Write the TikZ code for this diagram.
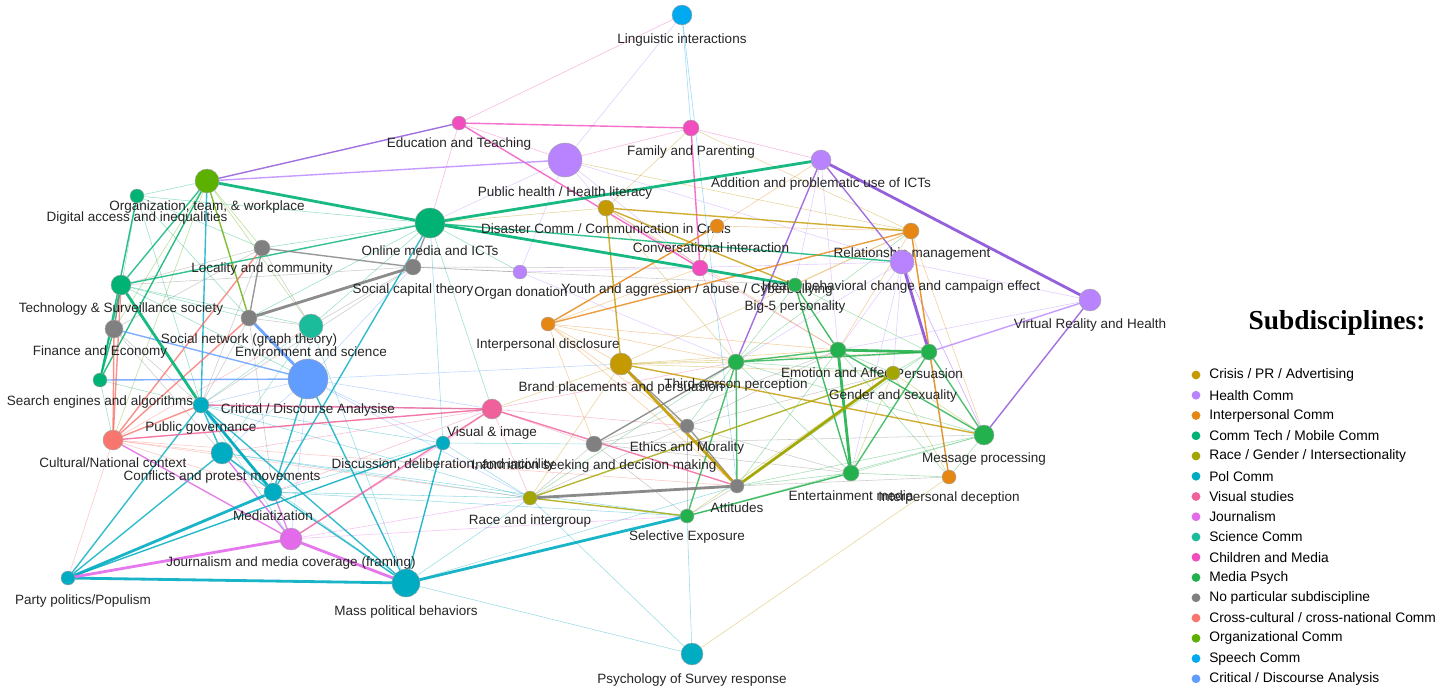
\documentclass[tikz,border=0pt]{standalone}
\usepackage{fontspec}
\setmainfont{Liberation Sans}
\newfontfamily\titlefont{Liberation Serif}
\definecolor{cCrisis}{HTML}{C49A00}
\definecolor{cHealth}{HTML}{B983FF}
\definecolor{cInter}{HTML}{E68613}
\definecolor{cTech}{HTML}{00B374}
\definecolor{cRace}{HTML}{A3A500}
\definecolor{cPol}{HTML}{00ACC1}
\definecolor{cVis}{HTML}{F0609A}
\definecolor{cJour}{HTML}{E36AEB}
\definecolor{cSci}{HTML}{1ABC9C}
\definecolor{cChild}{HTML}{F24DBE}
\definecolor{cPsy}{HTML}{22B14C}
\definecolor{cNone}{HTML}{808080}
\definecolor{cCross}{HTML}{F8766D}
\definecolor{cOrg}{HTML}{5BB000}
\definecolor{cSpeech}{HTML}{00A9F0}
\definecolor{cCDA}{HTML}{619CFF}
\definecolor{cPurp}{HTML}{8A4FD8}
\tikzset{
 dot/.style={circle,inner sep=0pt,draw=black!35,line width=0.3pt},
 lab/.style={font=\fontsize{9.6pt}{10pt}\selectfont,text=black!85,inner sep=0pt},
 thin/.style={line width=0.4pt,opacity=0.4},
 med/.style={line width=1pt,opacity=0.8},
 thick/.style={line width=2pt,opacity=0.9},
 legdot/.style={circle,inner sep=0pt,minimum size=0.22cm},
 legtxt/.style={font=\fontsize{9.8pt}{10pt}\selectfont,anchor=west,inner sep=0pt},
}
\begin{document}
\begin{tikzpicture}[x=0.025cm,y=-0.025cm]
\useasboundingbox (0,0) rectangle (1450,692);
\fill[white] (0,0) rectangle (1450,692);
% coordinates
\coordinate (li) at (682,15);
\coordinate (edu) at (459,123);
\coordinate (fam) at (691,128);
\coordinate (ph) at (565,160);
\coordinate (add) at (821,160);
\coordinate (org) at (207,181);
\coordinate (dig) at (137,196);
\coordinate (dis) at (606,208);
\coordinate (onl) at (430,223);
\coordinate (conv) at (717,226);
\coordinate (rel) at (911,231);
\coordinate (hb) at (902,262);
\coordinate (loc) at (262,248);
\coordinate (soc) at (413,267);
\coordinate (organ) at (520,272);
\coordinate (youth) at (700,268);
\coordinate (big5) at (795,285);
\coordinate (vr) at (1090,300);
\coordinate (tech) at (121,285);
\coordinate (snet) at (249,318);
\coordinate (env) at (311,326);
\coordinate (fin) at (114,329);
\coordinate (idis) at (548,324);
\coordinate (brand) at (621,364);
\coordinate (tpp) at (736,362);
\coordinate (emo) at (838,350);
\coordinate (pers) at (929,352);
\coordinate (gen) at (893,373);
\coordinate (cda) at (308,379);
\coordinate (search) at (100,380);
\coordinate (pgov) at (201,405);
\coordinate (vis) at (492,409);
\coordinate (eth) at (687,426);
\coordinate (msg) at (984,435);
\coordinate (cult) at (113,440);
\coordinate (disc) at (443,443);
\coordinate (info) at (594,444);
\coordinate (conf) at (222,453);
\coordinate (ent) at (851,473);
\coordinate (idec) at (949,477);
\coordinate (att) at (737,486);
\coordinate (medz) at (273,492);
\coordinate (race) at (530,498);
\coordinate (sel) at (687,516);
\coordinate (jour) at (291,539);
\coordinate (party) at (68,578);
\coordinate (mass) at (406,583);
\coordinate (surv) at (692,654);
% thin edges
\foreach \a/\b/\c in {li/edu/cChild,li/fam/cSpeech,li/att/cSpeech,li/ph/cHealth,edu/ph/cChild,edu/onl/cChild,fam/ph/cChild,fam/add/cChild,fam/rel/cCrisis,fam/dis/cCrisis,ph/onl/cHealth,ph/hb/cHealth,ph/organ/cHealth,ph/dis/cHealth,ph/youth/cHealth,ph/rel/cCrisis,add/big5/cHealth,add/emo/cHealth,add/conv/cInter,dig/onl/cTech,dig/pgov/cTech,dig/fin/cTech,dig/search/cTech,dig/loc/cTech,dig/snet/cTech,org/loc/cOrg,org/fin/cOrg,org/cult/cOrg,org/search/cOrg,org/env/cOrg,org/dig/cTech,onl/loc/cTech,onl/organ/cTech,onl/env/cTech,onl/snet/cTech,onl/dis/cCrisis,onl/youth/cTech,onl/vis/cTech,onl/disc/cPol,loc/tech/cNone,loc/env/cNone,loc/fin/cNone,loc/pgov/cNone,soc/env/cNone,soc/organ/cNone,soc/big5/cNone,soc/youth/cNone,soc/pgov/cNone,soc/tech/cNone,tech/fin/cTech,tech/env/cTech,tech/cda/cTech,tech/search/cTech,tech/snet/cTech,fin/pgov/cNone,fin/search/cTech,fin/conf/cNone,snet/pgov/cNone,snet/env/cNone,snet/medz/cNone,env/pgov/cSci,env/cda/cSci,env/conf/cSci,idis/brand/cInter,idis/tpp/cInter,idis/youth/cInter,idis/info/cInter,idis/eth/cInter,idis/att/cInter,idis/emo/cInter,brand/tpp/cCrisis,brand/emo/cCrisis,brand/pers/cCrisis,brand/rel/cCrisis,brand/vis/cCrisis,brand/race/cCrisis,brand/gen/cCrisis,tpp/gen/cPsy,tpp/msg/cPsy,tpp/eth/cPsy,tpp/info/cPsy,tpp/ent/cPsy,tpp/race/cPsy,tpp/rel/cPsy,emo/gen/cPsy,emo/att/cPsy,emo/idec/cPsy,emo/big5/cPsy,emo/rel/cInter,pers/gen/cPsy,pers/att/cPsy,pers/idec/cPsy,pers/big5/cPsy,pers/rel/cInter,gen/msg/cRace,gen/ent/cRace,gen/sel/cRace,gen/idec/cRace,msg/ent/cPsy,msg/att/cPsy,msg/sel/cPsy,msg/idec/cPsy,msg/hb/cHealth,vr/hb/cHealth,vr/emo/cHealth,cda/vis/cCDA,cda/disc/cCDA,cda/conf/cCDA,cda/jour/cCDA,cda/soc/cCDA,cda/brand/cCDA,cda/pgov/cCDA,cda/race/cCDA,search/pgov/cTech,search/cult/cTech,pgov/disc/cPol,pgov/vis/cPol,pgov/jour/cPol,pgov/race/cPol,vis/disc/cVis,vis/info/cVis,vis/race/cVis,vis/eth/cVis,vis/conf/cVis,vis/medz/cVis,vis/tpp/cVis,eth/info/cNone,eth/ent/cNone,eth/sel/cNone,eth/race/cNone,eth/emo/cNone,eth/gen/cNone,cult/conf/cCross,cult/medz/cCross,cult/jour/cCross,cult/vis/cCross,cult/race/cCross,cult/att/cCross,cult/env/cCross,disc/race/cPol,disc/mass/cPol,disc/medz/cPol,disc/info/cPol,info/sel/cNone,info/ent/cNone,info/race/cNone,info/emo/cNone,info/msg/cNone,conf/jour/cPol,conf/mass/cPol,conf/race/cPol,conf/sel/cPol,ent/att/cPsy,ent/sel/cPsy,ent/idec/cPsy,ent/big5/cPsy,att/sel/cNone,att/idec/cNone,att/race/cNone,medz/race/cPol,medz/sel/cPol,jour/race/cJour,jour/sel/cJour,jour/disc/cJour,mass/race/cPol,mass/surv/cPol,mass/att/cPol,sel/surv/cPol,race/surv/cPol,surv/idec/cCrisis,big5/rel/cInter,big5/tpp/cPsy,youth/big5/cChild,youth/emo/cChild,youth/dis/cChild,youth/tpp/cChild,conv/rel/cInter,conv/youth/cInter,conv/idis/cInter,dis/tpp/cCrisis,dis/emo/cCrisis,hb/tpp/cHealth,hb/emo/cHealth,hb/gen/cHealth,hb/msg/cHealth,hb/ent/cHealth,rel/msg/cInter,rel/idec/cInter,organ/tpp/cHealth,organ/hb/cHealth,party/cult/cCross,party/disc/cPol,mass/env/cPol}
  \draw[thin,\c] (\a) -- (\b);
% medium edges
\foreach \a/\b/\c in {edu/org/cPurp,edu/fam/cChild,edu/youth/cChild,fam/youth/cChild,ph/org/cHealth,add/tpp/cPurp,add/hb/cPurp,vr/msg/cPurp,vr/pers/cHealth,org/tech/cTech,org/snet/cOrg,org/pgov/cPol,org/search/cTech,onl/tech/cTech,onl/medz/cPol,onl/hb/cTech,dig/search/cTech,loc/soc/cNone,loc/snet/cNone,loc/cult/cCross,snet/cult/cCross,tech/cult/cCross,tech/search/cTech,cda/fin/cCDA,cda/search/cCDA,cda/medz/cPol,cda/mass/cPol,pgov/medz/cPol,pgov/conf/cPol,pgov/party/cPol,conf/party/cPol,conf/medz/cPol,medz/mass/cPol,jour/medz/cJour,cult/pgov/cCross,cult/fin/cCross,pgov/mass/cPol,vis/att/cVis,vis/cult/cVis,vis/jour/cVis,disc/party/cPol,disc/mass/cPol,dis/rel/cCrisis,dis/big5/cCrisis,dis/brand/cCrisis,idis/rel/cInter,conv/idis/cInter,brand/msg/cCrisis,tpp/emo/cPsy,tpp/pers/cPsy,tpp/sel/cPsy,tpp/att/cPsy,emo/msg/cPsy,pers/msg/cPsy,pers/ent/cPsy,big5/emo/cPsy,big5/ent/cPsy,race/gen/cRace,race/sel/cRace,info/tpp/cNone,eth/brand/cNone,eth/att/cNone,idec/rel/cInter,att/gen/cRace,sel/ent/cPsy,jour/cult/cJour,jour/conf/cJour,soc/onl/cNone,vis/pgov/cVis,fin/tech/cNone,search/fin/cTech}
  \draw[med,\c] (\a) -- (\b);
% thick edges
\draw[thick,cNone] (soc) -- (snet);
\draw[thick,cTech] (onl) -- (big5);
\draw[thick,cTech] (onl) -- (add);
\draw[thick,cTech] (org) -- (onl);
\draw[thick,cTech] (tech) -- (pgov);
\draw[thick,cPurp] (add) -- (vr);
\draw[thick,cPurp] (hb) -- (pers);
\draw[thick,cCDA] (cda) -- (snet);
\draw[thick,cPol] (party) -- (mass);
\draw[thick,cPol] (party) -- (medz);
\draw[thick,cPol] (mass) -- (sel);
\draw[thick,cJour] (jour) -- (mass);
\draw[thick,cJour] (jour) -- (party);
\draw[thick,cCrisis] (brand) -- (att);
\draw[thick,cPsy] (emo) -- (pers);
\draw[thick,cPsy] (emo) -- (ent);
\draw[thick,cRace] (gen) -- (att);
\draw[thick,cNone] (race) -- (att);
\draw[thick,cPol] (pgov) -- (medz);
% nodes
\foreach \n/\r/\c/\lx/\ly/\t in {
li/10/cSpeech/682/40/Linguistic interactions,
edu/7/cChild/459/144/Education and Teaching,
fam/8/cChild/691/152/Family and Parenting,
ph/17/cHealth/565/193/{Public health / Health literacy},
add/10/cHealth/821/184/Addition and problematic use of ICTs,
org/12/cOrg/207/207/{Organization, team, \& workplace},
dig/7/cTech/137/218/Digital access and inequalities,
dis/8/cCrisis/606/229/{Disaster Comm / Communication in Crisis},
onl/15/cTech/430/251/Online media and ICTs,
conv/7/cInter/711/248/Conversational interaction,
rel/8/cInter/912/254/Relationship management,
hb/12/cHealth/901/287/Health behavioral change and campaign effect,
loc/8/cNone/262/269/Locality and community,
soc/8/cNone/413/290/Social capital theory,
organ/7/cHealth/521/293/Organ donation,
youth/8/cChild/697/290/{Youth and aggression / abuse / Cyberbullying},
big5/7/cPsy/795/307/Big-5 personality,
vr/11/cHealth/1090/325/Virtual Reality and Health,
tech/10/cTech/121/309/Technology \& Surveillance society,
snet/8/cNone/249/340/Social network (graph theory),
env/12/cSci/311/352/Environment and science,
fin/9/cNone/100/352/Finance and Economy,
idis/7/cInter/548/345/Interpersonal disclosure,
brand/11/cCrisis/621/388/Brand placements and persuasion,
tpp/8/cPsy/736/385/Third-person perception,
emo/8/cPsy/838/373/Emotion and Affect,
pers/8/cPsy/929/374/Persuasion,
gen/7/cRace/893/396/Gender and sexuality,
cda/20/cCDA/308/410/{Critical / Discourse Analysise},
search/7/cTech/100/402/Search engines and algorithms,
pgov/8/cPol/201/428/Public governance,
vis/10/cVis/492/433/Visual \& image,
eth/7/cNone/687/448/Ethics and Morality,
msg/10/cPsy/984/459/Message processing,
cult/10/cCross/113/463/{Cultural/National context},
disc/7/cPol/443/465/{Discussion, deliberation, and incivility},
info/8/cNone/594/466/Information seeking and decision making,
conf/11/cPol/222/477/Conflicts and protest movements,
ent/8/cPsy/851/496/Entertainment media,
idec/7/cInter/949/498/Interpersonal deception,
att/7/cNone/737/508/Attitudes,
medz/9/cPol/273/516/Mediatization,
race/7/cRace/530/521/Race and intergroup,
sel/7/cPsy/687/537/Selective Exposure,
jour/11/cJour/291/563/Journalism and media coverage (framing),
party/7/cPol/83/601/{Party politics/Populism},
mass/14/cPol/406/612/Mass political behaviors,
surv/11/cPol/692/680/Psychology of Survey response}
{
  \node[dot,fill=\c,minimum size=2*\r*0.025cm] (\n-c) at (\n) {};
  \node[lab] (\n-l) at (\lx,\ly) {\t};
}
% legend
\node[font=\titlefont\bfseries\fontsize{19.5pt}{22pt}\selectfont,inner sep=0pt] (legt) at (1337,323) {Subdisciplines:};
\foreach \c/\t [count=\i from 0] in {cCrisis/{Crisis / PR / Advertising},cHealth/Health Comm,cInter/Interpersonal Comm,cTech/{Comm Tech / Mobile Comm},cRace/{Race / Gender / Intersectionality},cPol/Pol Comm,cVis/Visual studies,cJour/Journalism,cSci/Science Comm,cChild/Children and Media,cPsy/Media Psych,cNone/No particular subdiscipline,cCross/{Cross-cultural / cross-national Comm},cOrg/Organizational Comm,cSpeech/Speech Comm,cCDA/{Critical / Discourse Analysis}}
{
  \node[legdot,fill=\c] (ld\i) at (1196,375+20.25*\i) {};
  \node[legtxt] (lt\i) at (1209,375+20.25*\i) {\t};
}
\end{tikzpicture}
\end{document}
